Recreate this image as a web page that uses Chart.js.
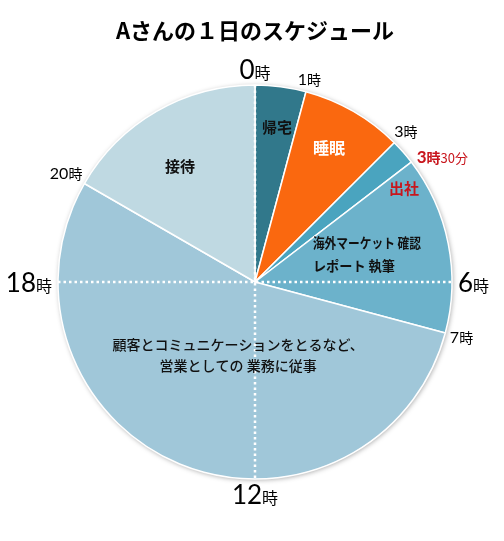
<!DOCTYPE html>
<html><head><meta charset="utf-8">
<script src="https://cdn.jsdelivr.net/npm/chart.js@4/dist/chart.umd.min.js"></script>
<style>html,body{margin:0;padding:0;background:#fff}canvas{display:block}</style>
</head><body>
<canvas id="c" width="504" height="541"></canvas>
<script>
// ---- data ----
const chartTitle = 'Aさんの１日のスケジュール';
const categories = ['帰宅', '睡眠', '出社', '海外マーケット 確認\nレポート 執筆', '顧客とコミュニケーションをとるなど、\n営業としての 業務に従事', '接待'];
const hours = [1, 2, 0.5, 3.5, 13, 4];
const hourTicks = [0, 1, 3, 6, 7, 12, 18, 20];
const tickSuffix = '時';
const extraTickHour = 3.5;
const extraTickMain = ['3', '時'];
const extraTickSub = '30分';

// ---- styles ----
const colors = ['#31788B', '#FA680F', '#4AA4BF', '#6CB2CB', '#A0C7D9', '#BFD9E2'];
const JP = '"Noto Sans CJK JP"';
const sliceStyles = [
  {fx: 0.112, fy: -0.787, color: '#111', font: 'bold 15px ' + JP},
  {fx: 0.376, fy: -0.680, color: '#fff', font: 'bold 16px ' + JP},
  {fx: 0.756, fy: -0.477, color: '#C8161D', font: 'bold 15px ' + JP},
  {fx: 0.294, fy: -0.140, color: '#111', font: 'bold 13.5px ' + JP, align: 'left', lh: 23, maxW: [108, 82]},
  {fx: -0.086, fy: 0.373, color: '#111', font: '500 14px ' + JP, lh: 21},
  {fx: -0.381, fy: -0.589, color: '#111', font: 'bold 15px ' + JP}
];

const shadowPlugin = {
  id: 'pieShadow',
  beforeDatasetsDraw(chart) {
    const a = chart.getDatasetMeta(0).data[0];
    const ctx = chart.ctx;
    ctx.save();
    ctx.shadowColor = 'rgba(0,0,0,0.35)';
    ctx.shadowBlur = 5;
    ctx.shadowOffsetX = 1;
    ctx.shadowOffsetY = 1;
    ctx.fillStyle = '#fff';
    ctx.beginPath();
    ctx.arc(a.x, a.y, a.outerRadius, 0, Math.PI * 2);
    ctx.fill();
    ctx.restore();
  }
};

const labelPlugin = {
  id: 'pieLabels',
  afterDatasetsDraw(chart) {
    const ctx = chart.ctx;
    const meta = chart.getDatasetMeta(0);
    const a0 = meta.data[0];
    const cx = a0.x, cy = a0.y, R = a0.outerRadius;
    ctx.save();
    // dotted cross
    ctx.strokeStyle = '#fff';
    ctx.lineWidth = 2.5;
    ctx.setLineDash([2.5, 3]);
    ctx.beginPath();
    ctx.moveTo(cx, cy - R); ctx.lineTo(cx, cy + R);
    ctx.moveTo(cx - R, cy); ctx.lineTo(cx + R, cy);
    ctx.stroke();
    ctx.setLineDash([]);

    // slice labels
    meta.data.forEach((arc, i) => {
      const st = sliceStyles[i];
      const lines = categories[i].split('\n');
      const lh = st.lh || 20;
      ctx.font = st.font;
      ctx.fillStyle = st.color;
      ctx.textAlign = st.align || 'center';
      ctx.textBaseline = 'middle';
      const x = cx + st.fx * R;
      const y0 = cy + st.fy * R - (lines.length - 1) * lh / 2;
      lines.forEach((t, k) => {
        if (st.maxW) ctx.fillText(t, x, y0 + k * lh, st.maxW[k]);
        else ctx.fillText(t, x, y0 + k * lh);
      });
    });

    // hour labels
    ctx.textAlign = 'left';
    ctx.textBaseline = 'alphabetic';
    function placeLabel(hour, parts, capH, pad, nx, ny) {
      let w = 0;
      parts.forEach(p => { ctx.font = p.font; p.w = ctx.measureText(p.text).width; w += p.w; });
      const th = hour / 24 * Math.PI * 2;
      const s = Math.sin(th), c = -Math.cos(th);
      const d = R + pad + (w / 2) * Math.abs(s) + (capH / 2) * Math.abs(c);
      const mx = cx + d * s + (nx || 0), my = cy + d * c + (ny || 0);
      let x = mx - w / 2;
      const base = my + capH / 2;
      parts.forEach(p => {
        ctx.font = p.font; ctx.fillStyle = p.color;
        ctx.fillText(p.text, x, base);
        x += p.w;
      });
    }
    hourTicks.forEach(h => {
      const big = h % 6 === 0;
      const parts = big
        ? [{text: String(h), font: '26px Lato', color: '#000'}, {text: tickSuffix, font: '16px ' + JP, color: '#000'}]
        : [{text: String(h), font: '16px Lato', color: '#000'}, {text: tickSuffix, font: '14px ' + JP, color: '#000'}];
      placeLabel(h, parts, big ? 19 : 12, big ? 6 : 4);
    });
    placeLabel(extraTickHour, [
      {text: extraTickMain[0], font: 'bold 17px Lato', color: '#C8161D'},
      {text: extraTickMain[1], font: 'bold 14px ' + JP, color: '#C8161D'},
      {text: extraTickSub, font: '13px ' + JP, color: '#C8161D'}
    ], 12, 0, 12, 10);
    ctx.restore();
  }
};

new Chart(document.getElementById('c'), {
  type: 'pie',
  data: {
    labels: categories,
    datasets: [{
      data: hours,
      backgroundColor: colors,
      borderColor: '#fff',
      borderWidth: 1.5,
      radius: 197
    }]
  },
  options: {
    responsive: false,
    animation: false,
    layout: {padding: {left: 55, right: 49, top: 0, bottom: 59.4}},
    plugins: {
      legend: {display: false},
      tooltip: {enabled: false},
      title: {
        display: true,
        text: chartTitle,
        color: '#000',
        font: {family: 'Noto Sans CJK JP', size: 22, weight: 'bold', lineHeight: 1.2},
        padding: {top: 17, bottom: 39}
      }
    }
  },
  plugins: [shadowPlugin, labelPlugin]
});
</script>
</body></html>
